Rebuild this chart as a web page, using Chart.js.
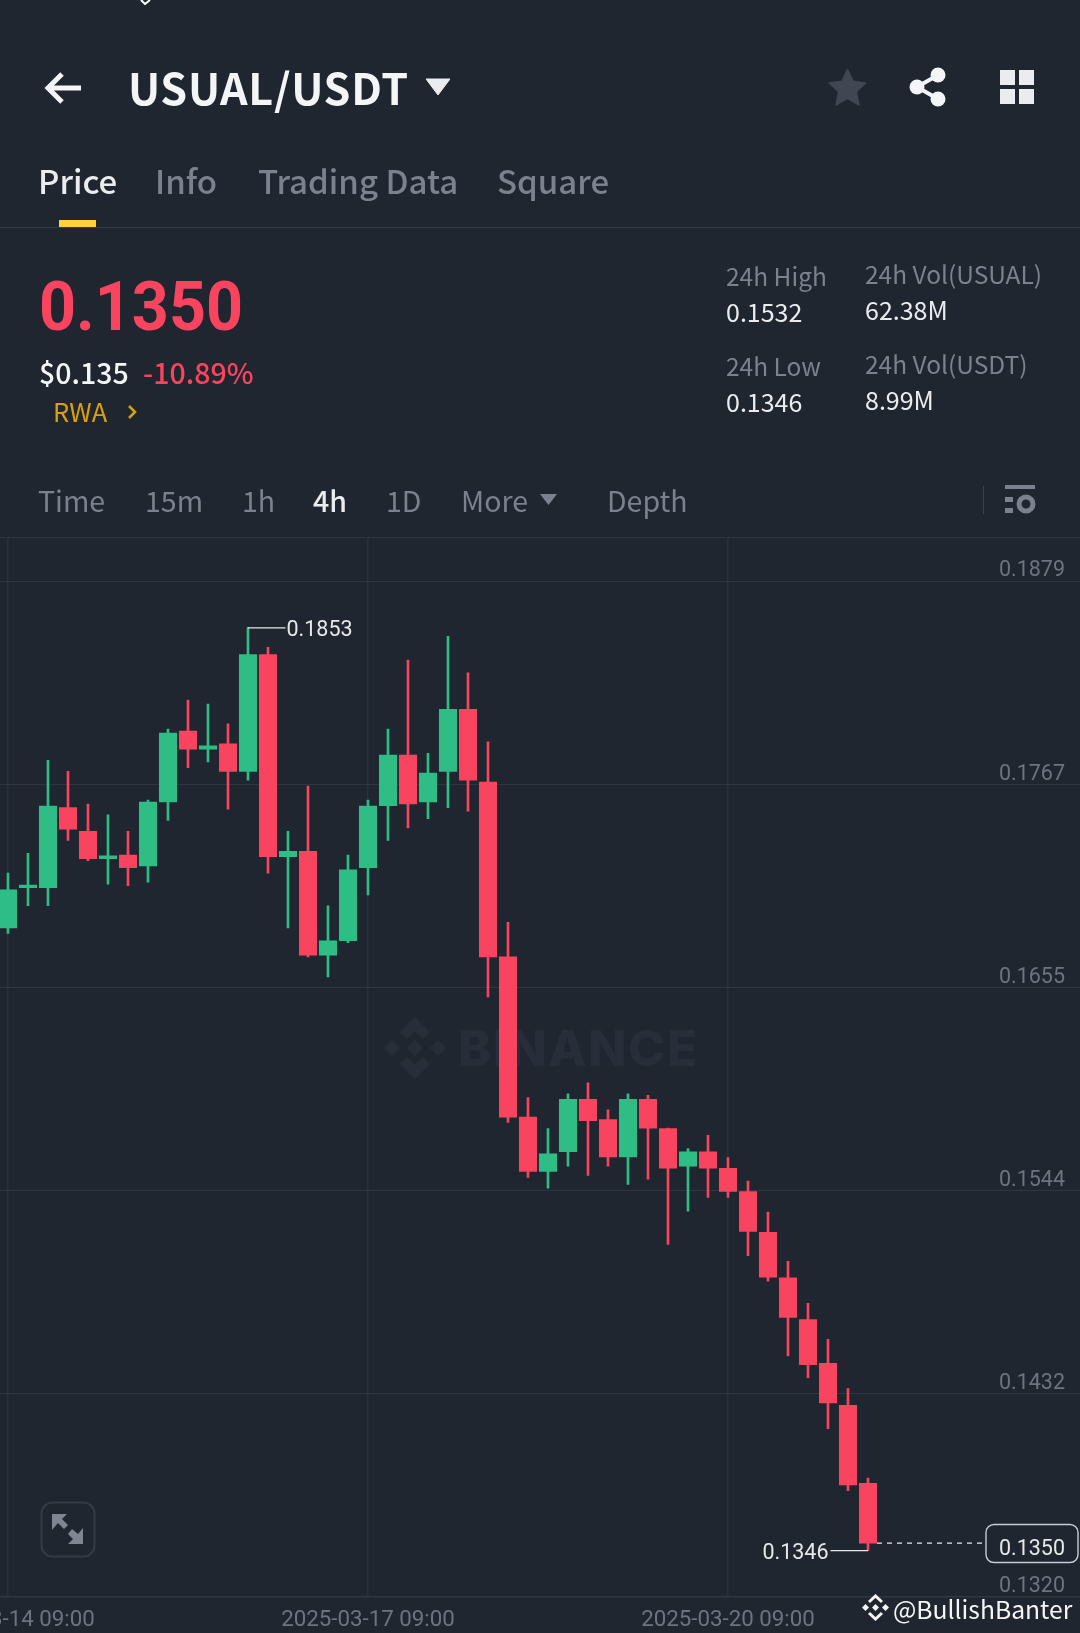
<!DOCTYPE html>
<html><head><meta charset="utf-8">
<script src="https://cdn.jsdelivr.net/npm/chart.js@4/dist/chart.umd.js"></script>
<style>
html,body{margin:0;padding:0;background:#1f2630;width:1080px;height:1633px;overflow:hidden}
#wrap{position:relative;width:1080px;height:1633px;overflow:hidden;font-family:"Noto Sans CJK SC","Noto Sans",sans-serif}
canvas{position:absolute;left:0;top:0;z-index:2}
.t{position:absolute;transform:translateY(-50%);line-height:1;white-space:nowrap;z-index:3}
.g{color:#7b818e}.w{color:#eaecef}
.n{font-family:Roboto,sans-serif}
svg{position:absolute;z-index:3}
.r{position:absolute;z-index:3}
</style></head><body><div id="wrap">
<svg style="left:139px;top:0" width="14" height="5"><path d="M2 0 L6 4 L11 0" stroke="#fff" stroke-width="2" fill="none"/></svg>
<svg style="left:44px;top:70px" width="38" height="36" viewBox="0 0 38 36"><path d="M18 4 L4 18 L18 32 M4 18 H37" stroke="#f4f5f6" stroke-width="5" fill="none"/></svg>
<div class="t" style="left:128px;top:86px;font-size:43px;font-weight:700;color:#f4f5f6;letter-spacing:.7px">USUAL/USDT</div>
<svg style="left:426px;top:78px" width="24" height="18"><path d="M0 1 H24 L12 17 Z" fill="#eaecef" stroke="#eaecef" stroke-linejoin="round"/></svg>
<svg style="left:828px;top:68px" width="39" height="39" viewBox="0 0 24 24"><path d="M12 1 L15.4 8.2 L23.2 9.2 L17.4 14.6 L19 22.6 L12 18.6 L5 22.6 L6.6 14.6 L.8 9.2 L8.6 8.2 Z" fill="#404652" stroke="#404652" stroke-linejoin="round"/></svg>
<svg style="left:909px;top:67px" width="38" height="40" viewBox="0 0 38 40"><g fill="#f4f5f6"><circle cx="8" cy="20" r="7.5"/><circle cx="29" cy="8" r="7.5"/><circle cx="29" cy="32" r="7.5"/></g><path d="M8 20 L29 8 M8 20 L29 32" stroke="#f4f5f6" stroke-width="4"/></svg>
<svg style="left:1000px;top:70px" width="34" height="34"><g fill="#eaecef"><rect width="15" height="15"/><rect x="19" width="15" height="15"/><rect y="19" width="15" height="15"/><rect x="19" y="19" width="15" height="15"/></g></svg>

<div class="t w" style="left:38px;top:180px;font-size:33px;font-weight:500">Price</div>
<div class="t g" style="left:155px;top:180px;font-size:33px;font-weight:500">Info</div>
<div class="t g" style="left:258px;top:180px;font-size:33px;font-weight:500">Trading Data</div>
<div class="t g" style="left:497px;top:180px;font-size:33px;font-weight:500">Square</div>
<div class="r" style="left:59px;top:220px;width:37px;height:7px;background:#fcd535"></div>
<div class="r" style="left:0;top:227px;width:1080px;height:1px;background:#343b46"></div>

<div class="t n" style="left:39px;top:307px;font-size:68px;font-weight:700;color:#f9445f;transform:translateY(-50%) scaleX(.95);transform-origin:left center">0.1350</div>
<div class="t" style="left:39px;top:372px;font-size:28.5px;font-weight:500;color:#f4f5f6">$0.135</div>
<div class="t" style="left:143px;top:372px;font-size:28.5px;font-weight:500;color:#f9445f">-10.89%</div>
<div class="t" style="left:53px;top:411px;font-size:25.5px;color:#d9a10f">RWA</div>
<svg style="left:126px;top:404px" width="12" height="16"><path d="M3 2 L9 8 L3 14" stroke="#d9a10f" stroke-width="2.5" fill="none"/></svg>

<div class="t g" style="left:726px;top:276px;font-size:24.5px">24h High</div>
<div class="t w" style="left:726px;top:311px;font-size:25px">0.1532</div>
<div class="t g" style="left:865px;top:274px;font-size:24.5px">24h Vol(USUAL)</div>
<div class="t w" style="left:865px;top:309px;font-size:25px">62.38M</div>
<div class="t g" style="left:726px;top:366px;font-size:24.5px">24h Low</div>
<div class="t w" style="left:726px;top:401px;font-size:25px">0.1346</div>
<div class="t g" style="left:865px;top:364px;font-size:24.5px">24h Vol(USDT)</div>
<div class="t w" style="left:865px;top:399px;font-size:25px">8.99M</div>

<div class="t g" style="left:38px;top:500px;font-size:28.5px">Time</div>
<div class="t g" style="left:145px;top:500px;font-size:28.5px">15m</div>
<div class="t g" style="left:242px;top:500px;font-size:28.5px">1h</div>
<div class="t w" style="left:313px;top:500px;font-size:28.5px;font-weight:500">4h</div>
<div class="t g" style="left:386px;top:500px;font-size:28.5px">1D</div>
<div class="t g" style="left:461px;top:500px;font-size:28.5px">More</div>
<svg style="left:540px;top:494px" width="17" height="11"><path d="M0 0 H17 L8.5 11 Z" fill="#7b818e"/></svg>
<div class="t g" style="left:607px;top:500px;font-size:28.5px">Depth</div>
<div class="r" style="left:983px;top:486px;width:1px;height:28px;background:#3b424e"></div>
<svg style="left:1005px;top:484px" width="31" height="31"><g fill="#7b818e"><rect width="30" height="4" y="1"/><rect width="8" height="5" y="13"/><rect width="8" height="5" y="24"/></g><circle cx="21" cy="20" r="7" fill="none" stroke="#7b818e" stroke-width="5"/></svg>
<div class="r" style="left:0;top:537px;width:1080px;height:1px;background:#2e3540;z-index:1"></div>

<!-- watermark under the transparent canvas -->
<svg style="left:384px;top:1017px;z-index:1" width="62" height="62" viewBox="0 0 62 62"><g fill="#282e39"><path d="M31 0 L46 15 L39 22 L31 14 L23 22 L16 15 Z"/><path d="M0 31 L8 23 L16 31 L8 39 Z"/><path d="M46 31 L54 23 L62 31 L54 39 Z"/><path d="M31 23 L39 31 L31 39 L23 31 Z"/><path d="M31 62 L16 47 L23 40 L31 48 L39 40 L46 47 Z"/></g></svg>
<div class="t" style="left:458px;top:1048px;z-index:1;font-family:Inter,sans-serif;font-weight:800;font-size:50px;letter-spacing:1.5px;color:#282e39">BINANCE</div>

<!-- expand button -->
<svg style="left:40px;top:1501px" width="56" height="57" viewBox="0 0 56 57"><rect x="1.5" y="1.5" width="53" height="54" rx="11" fill="none" stroke="#343a46" stroke-width="2"/><g fill="#7f8591"><path d="M12 13 H27 L22 18 L28 24 L24 28 L18 22 L12 29 Z"/><path d="M43 43 H28 L33 38 L28 33 L32 28 L38 33 L43 27 Z"/></g></svg>

<!-- credit -->
<svg style="left:862px;top:1594px" width="27" height="27" viewBox="0 0 27 27"><g fill="none" stroke="#f4f5f6" stroke-width="3"><path d="M7 8 L13.5 2 L20 8"/><path d="M7 19 L13.5 25 L20 19"/></g><g fill="#f4f5f6"><path d="M13.5 10 L17 13.5 L13.5 17 L10 13.5 Z"/><path d="M3.5 10 L7 13.5 L3.5 17 L0 13.5 Z"/><path d="M23.5 10 L27 13.5 L23.5 17 L20 13.5 Z"/></g></svg>
<div class="t" style="left:893px;top:1608px;font-size:24.7px;color:#f4f5f6">@BullishBanter</div>

<canvas id="c" width="1080" height="1633"></canvas>
</div>
<script>
const categories = ["2025-03-14 09:00","2025-03-17 09:00","2025-03-20 09:00"];
const categorySlots = [0,18,36];
const yTicks = [0.18793,0.17673,0.16554,0.15436,0.1432,0.1320];
const opens = [.16882,.17104,.17104,.17545,.17415,.17264,.17284,.17224,.17576,.17967,.17867,.17896,.17745,.18388,.17275,.17305,.16732,.16812,.17214,.17556,.17835,.17576,.17745,.18087,.17686,.16723,.15841,.15542,.15650,.15939,.15827,.15621,.15939,.15778,.15571,.15650,.15559,.15430,.15206,.14956,.14725,.14485,.14254,.13824];
const closes = [.17093,.17119,.17554,.17426,.17264,.17279,.17214,.17576,.17956,.17867,.17886,.17745,.18388,.17275,.17305,.16732,.16812,.17203,.17554,.17835,.17565,.17736,.18087,.17696,.16723,.15841,.15542,.15638,.15939,.15821,.15621,.15939,.15780,.15559,.15650,.15559,.15432,.15211,.14959,.14738,.14477,.14266,.13815,.13494];
const highs = [.17184,.17294,.17806,.17745,.17565,.17505,.17415,.17586,.17977,.18138,.18116,.18006,.18538,.18428,.17415,.17664,.17004,.17284,.17586,.17977,.18357,.17844,.18489,.18287,.17907,.16913,.15948,.15778,.15969,.16029,.15881,.15969,.15960,.15780,.15667,.15740,.15618,.15489,.15317,.15047,.14815,.14617,.14345,.13853];
const lows = [.16853,.17005,.17005,.17365,.17253,.17123,.17115,.17134,.17475,.17765,.17797,.17536,.17696,.17184,.16882,.16723,.16613,.16801,.17064,.17365,.17433,.17484,.17545,.17525,.16502,.15812,.15508,.15449,.15571,.15519,.15571,.15470,.15499,.15139,.15322,.15398,.15398,.15078,.14937,.14525,.14406,.14125,.13783,.13453];
const RED="#f9445f", GREEN="#2ebd85";
const colors = opens.map((o,i)=>closes[i]>=o?GREEN:RED);
const bodies = opens.map((o,i)=>({x:i,y:[o,closes[i]]}));
const wicks = lows.map((l,i)=>({x:i,y:[l,highs[i]]}));
const highLabel=["0.1853",12,highs[12]], lowLabel=["0.1346",43,lows[43]], lastLabel="0.1350", lastPrice=closes[43];

const marks={id:"marks",afterDatasetsDraw(ch){
  const c=ch.ctx,x=ch.scales.x,y=ch.scales.y;
  c.save();
  c.font="400 21.5px Roboto";c.textBaseline="middle";
  // high
  let px=x.getPixelForValue(highLabel[1]),py=y.getPixelForValue(highLabel[2]);
  c.strokeStyle="#e6e8ea";c.lineWidth=1.2;c.beginPath();c.moveTo(px,py+.5);c.lineTo(285.5,py+.5);c.stroke();
  c.fillStyle="#e6e8ea";c.textAlign="left";c.fillText(highLabel[0],286.5,py+3);
  // low
  px=x.getPixelForValue(lowLabel[1]);py=y.getPixelForValue(lowLabel[2]);
  c.beginPath();c.moveTo(px,py);c.lineTo(830.5,py);c.stroke();
  c.textAlign="right";c.fillText(lowLabel[0],828.5,py+3);
  // last
  py=y.getPixelForValue(lastPrice);
  c.setLineDash([5,5]);c.beginPath();c.moveTo(877,py);c.lineTo(982,py);c.stroke();c.setLineDash([]);
  c.fillStyle="#1f2630";c.strokeStyle="#c9ccd1";c.lineWidth=1.4;
  c.beginPath();c.roundRect(986,1524.5,92,38,8);c.fill();c.stroke();
  c.fillStyle="#e6e8ea";c.textAlign="right";c.fillText(lastLabel,1065,1549.5);
  c.restore();
}};

new Chart(document.getElementById("c"),{
  type:"bar",
  data:{datasets:[
    {data:wicks,backgroundColor:colors,barThickness:2,grouped:false,order:2},
    {data:bodies,backgroundColor:colors,barThickness:17.4,grouped:false,order:1}
  ]},
  options:{
    responsive:false,animation:false,devicePixelRatio:1,
    layout:{padding:{top:538,left:0,right:0,bottom:0}},
    plugins:{legend:{display:false},tooltip:{enabled:false}},
    scales:{
      x:{type:"linear",offset:false,min:-0.4,max:53.6,position:"bottom",
        afterBuildTicks(s){s.ticks=categorySlots.map(v=>({value:v}));},
        afterFit(s){s.height=36.4;s.paddingLeft=0;s.paddingRight=0;},
        grid:{color:"#2b313c",lineWidth:1.5,drawTicks:false,offset:false},
        border:{color:"#303743",width:1.5},
        ticks:{autoSkip:false,maxRotation:0,minRotation:0,padding:10,color:"#6d7481",font:{family:"Roboto",size:22.3},
          callback:v=>categories[categorySlots.indexOf(v)]}
      },
      y:{min:0.132,max:0.1903,position:"right",
        afterBuildTicks(s){s.ticks=yTicks.map(v=>({value:v}));},
        afterFit(s){s.width=0;},
        grid:{color:"#30363f",lineWidth:1,drawTicks:false},
        border:{display:false},
        ticks:{mirror:true,padding:-15,labelOffset:-10,color:"#6d7481",font:{family:"Roboto",size:21.5},
          callback:v=>v.toFixed(4)}
      }
    }
  },
  plugins:[marks]
});
</script></body></html>
